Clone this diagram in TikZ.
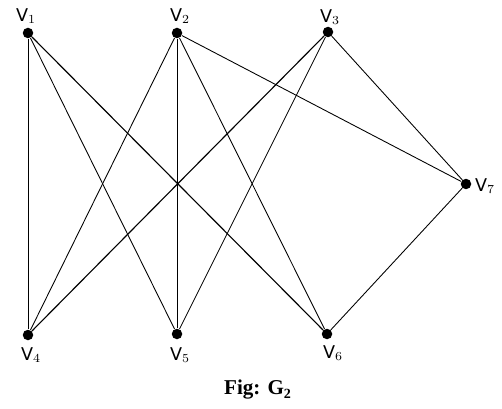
\documentclass[tikz,border=0pt]{standalone}
\usepackage{fontspec}
\setsansfont{DejaVu Sans}
\setmainfont{Liberation Serif}
\usetikzlibrary{positioning}

\begin{document}
\begin{tikzpicture}[
  x=0.02cm, y=-0.02cm,
  vtx/.style={circle, fill=black, inner sep=0pt, minimum size=0.21cm},
  lbl/.style={font=\sffamily\fontsize{10}{12}\selectfont, inner sep=0pt},
  edge/.style={line width=0.5pt, black}
]
  \useasboundingbox (0,0) rectangle (502,408);

  \node[vtx] (v1) at (28,33) {};
  \node[vtx] (v2) at (177,33) {};
  \node[vtx] (v3) at (328,32) {};
  \node[vtx] (v4) at (28,335) {};
  \node[vtx] (v5) at (177,334) {};
  \node[vtx] (v6) at (327,334) {};
  \node[vtx] (v7) at (466,184) {};

  \node[lbl] (l1) at (26,16) {V$_{1}$};
  \node[lbl] (l2) at (180,16) {V$_{2}$};
  \node[lbl] (l3) at (330,17) {V$_{3}$};
  \node[lbl] (l4) at (31,355) {V$_{4}$};
  \node[lbl] (l5) at (180,355) {V$_{5}$};
  \node[lbl] (l6) at (333,353) {V$_{6}$};
  \node[lbl] (l7) at (485,186) {V$_{7}$};

  \node[font=\bfseries\fontsize{12}{14}\selectfont, inner sep=0pt] (cap) at (258,390) {Fig: G$_{\mathbf{2}}$};

  \draw[edge] (v1) -- (v4);
  \draw[edge] (v1) -- (v5);
  \draw[edge, line width=0.65pt] (v1) -- (v6);
  \draw[edge] (v2) -- (v4);
  \draw[edge] (v2) -- (v5);
  \draw[edge] (v2) -- (v6);
  \draw[edge] (v2) -- (v7);
  \draw[edge, line width=0.65pt] (v3) -- (v4);
  \draw[edge] (v3) -- (v5);
  \draw[edge] (v3) -- (v7);
  \draw[edge] (v6) -- (v7);
\end{tikzpicture}
\end{document}
